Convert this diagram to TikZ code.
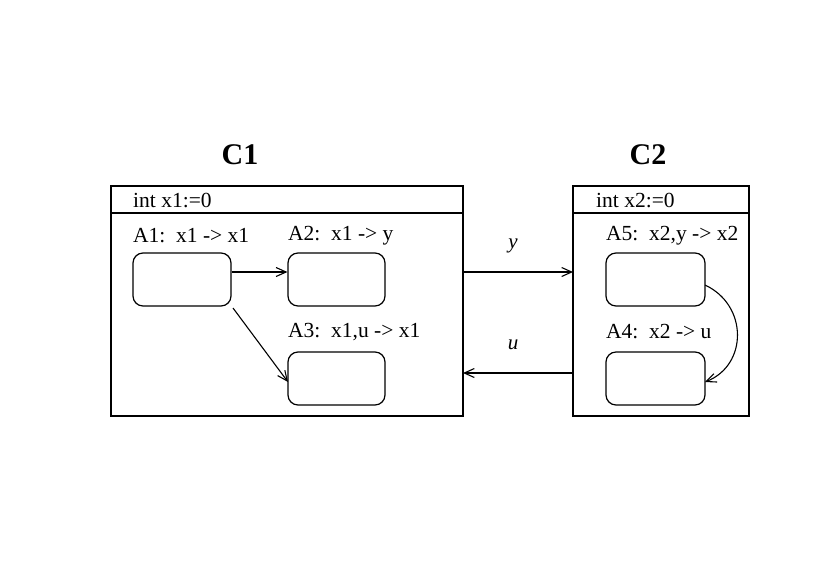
\documentclass[tikz,border=0pt]{standalone}
\usepackage{fontspec}
\setmainfont{Liberation Serif}
\usetikzlibrary{arrows.meta}
\begin{document}
\begin{tikzpicture}[x=1pt,y=-1pt,
  box/.style={draw,line width=1.2pt},
  st/.style={draw,line width=1.2pt,rounded corners=10pt},
  lbl/.style={anchor=west,inner sep=0pt,font=\fontsize{21.5}{24}\selectfont},
  ttl/.style={inner sep=0pt,font=\fontsize{30}{32}\selectfont\bfseries},
  arr/.style={draw,line width=1.1pt,-{Straight Barb[length=10pt,width=9pt]}}]
\useasboundingbox (0,0) rectangle (833,574);
\node[ttl] (t1) at (240,155) {C1};
\node[ttl] (t2) at (648,155) {C2};
\draw[box] (111,186) rectangle (463,416);
\draw[box] (111,213) -- (463,213);
\draw[box] (573,186) rectangle (749,416);
\draw[box] (573,213) -- (749,213);
\coordinate (c1r) at (463,272);
\coordinate (c2l) at (573,272);
\coordinate (c1ru) at (463,373);
\coordinate (c2lu) at (573,373);
\node[lbl] (h1) at (133,200) {int x1:=0};
\node[lbl] (h2) at (596,200) {int x2:=0};
\node[lbl] (l1) at (133,236) {A1:\ \ x1 -{}> x1};
\node[lbl] (l2) at (288,236) {A2:\ \ x1 -{}> y};
\node[lbl] (l3) at (288,332) {A3:\ \ x1,u -{}> x1};
\node[lbl] (l5) at (606,236) {A5:\ \ x2,y -{}> x2};
\node[lbl] (l4) at (606,332) {A4:\ \ x2 -{}> u};
\node[st,minimum width=98pt,minimum height=53pt] (a1) at (182,279.5) {};
\node[st,minimum width=97pt,minimum height=53pt] (a2) at (336.5,279.5) {};
\node[st,minimum width=97pt,minimum height=53pt] (a3) at (336.5,378.5) {};
\node[st,minimum width=99pt,minimum height=53pt] (a5) at (655.5,279.5) {};
\node[st,minimum width=99pt,minimum height=53pt] (a4) at (655.5,378.5) {};
\draw[arr] (a1.east |- 0,272) -- (a2.west |- 0,272);
\draw[arr] (233,308) -- (288,382);
\draw[arr] (c1r) -- (c2l);
\draw[arr] (c2lu) -- (c1ru);
\node[inner sep=0pt,font=\fontsize{21}{22}\selectfont\itshape] (ly) at (513,246) {y};
\node[inner sep=0pt,font=\fontsize{21}{22}\selectfont\itshape] (lu) at (513,345) {u};
\draw[arr] (705,285) .. controls (748,305) and (748,365) .. (705,382);
\end{tikzpicture}
\end{document}
